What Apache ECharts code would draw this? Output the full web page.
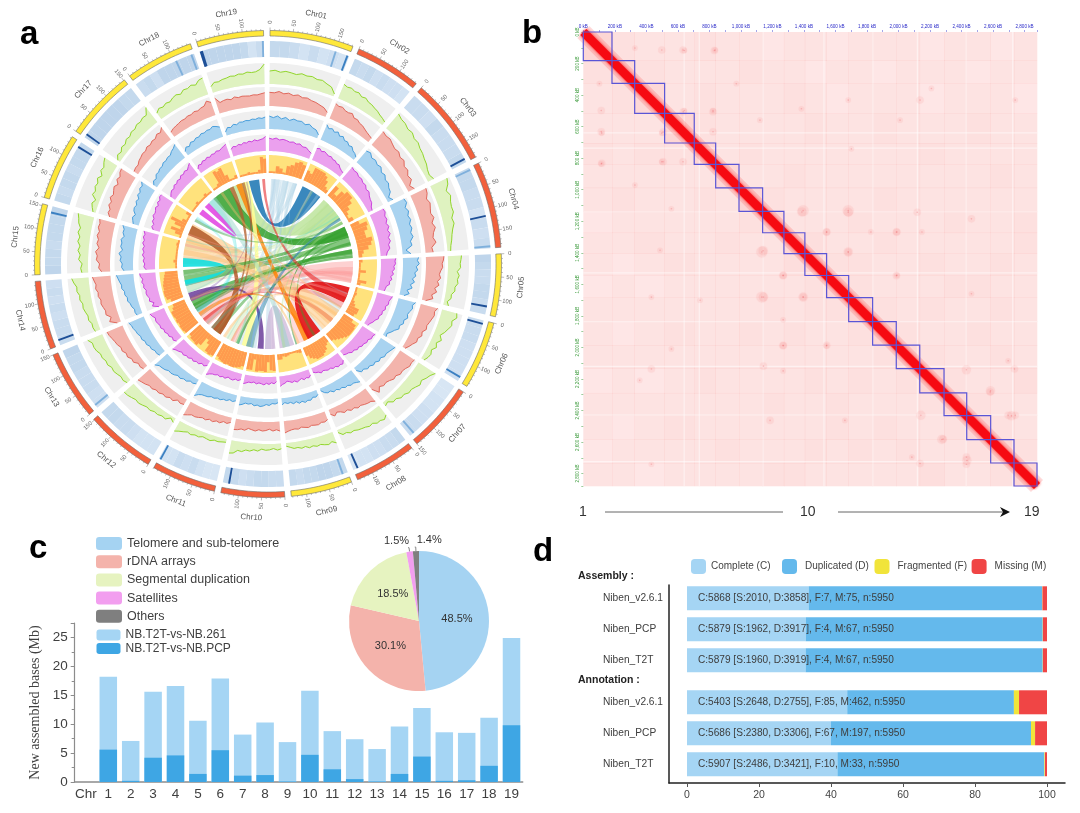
<!DOCTYPE html>
<html><head><meta charset="utf-8">
<style>html,body{margin:0;background:#fff}#c{width:1080px;height:813px}#c canvas{filter:blur(.45px)}</style>
<script src="https://cdn.jsdelivr.net/npm/echarts@6/dist/echarts.min.js"></script></head>
<body><div id="c"></div>
<script>
/* ---------- panel a / b : chromosomes ---------- */
const chrNames=['Chr01','Chr02','Chr03','Chr04','Chr05','Chr06','Chr07','Chr08','Chr09','Chr10','Chr11','Chr12','Chr13','Chr14','Chr15','Chr16','Chr17','Chr18','Chr19'];
const chrLengths=[182,144,190,188,136,148,150,135,133,138,140,152,150,149,154,144,152,148,146];
const chrIdeogramKind=[0,1,1,1,0,0,1,1,0,1,1,1,1,1,0,0,0,0,0];
const greenTrack=[[62,66,58,64,60,55,63,57,60,52,55,45,38,12],[72,66,70,62,66,55,60,50,48,42,38,30,25,18],[90,80,78,68,72,60,62,52,48,40,35,25,20,30],[88,80,60,72,62,58,60,45,50,38,30,25,18,15],[65,62,58,60,45,55,48,52,40,42,28,30,15,25],[72,78,60,66,55,45,30,45,28,38,22,30,25,15],[95,80,72,60,68,58,50,52,40,42,28,30,12,20],[55,68,60,62,50,55,48,45,42,35,38,28,30,12],[55,42,50,45,38,42,35,40,30,35,28,30,22,15],[25,30,22,28,30,25,35,30,38,35,45,42,58,62],[15,18,22,20,28,25,22,30,28,35,30,38,45,55],[22,10,28,25,32,30,38,35,42,48,45,52,58,60],[20,28,25,32,38,35,45,42,50,48,58,62,60,75],[25,30,28,38,35,42,48,45,55,52,62,60,72,80],[30,35,28,45,38,50,42,55,48,60,52,65,70,78],[12,22,30,18,42,35,45,40,52,38,55,50,62,70],[12,28,22,35,30,42,38,48,45,55,52,60,58,88],[35,48,42,50,45,55,60,52,65,62,70,62,78,82],[30,45,42,48,50,55,52,58,55,62,58,60,70,95]];
const redTrack=[[72,70,78,68,74,65,72,62,66,58,55,48,42,25],[85,78,82,72,70,76,60,62,52,50,42,35,30,25],[92,85,88,78,70,75,62,68,50,55,38,45,20,35],[90,85,70,80,72,65,75,58,70,55,48,60,35,40],[95,92,85,88,78,72,80,65,75,55,68,45,55,20],[92,80,85,78,72,65,70,55,62,48,52,38,28,15],[90,85,88,78,72,75,62,66,55,48,52,40,62,25],[85,72,70,65,58,62,50,55,42,48,35,28,42,25],[45,52,48,55,52,48,55,50,45,52,48,50,55,62],[50,42,48,38,45,48,42,50,45,40,52,48,55,58],[25,35,30,42,38,48,42,52,48,55,60,58,68,78],[30,35,28,45,40,52,48,58,55,65,62,72,78,85],[25,32,28,45,42,55,50,62,58,68,72,78,85,88],[20,55,40,62,58,65,72,68,78,75,85,80,88,95],[45,60,55,72,68,78,62,75,70,80,72,82,78,85],[38,52,48,62,55,70,60,68,75,62,80,72,85,88],[25,30,28,38,42,48,45,55,50,58,55,68,62,80],[30,38,42,45,50,48,55,52,60,55,62,65,85,70],[85,55,60,62,55,65,58,62,60,58,62,60,65,70]];
const blueTrack=[[70,62,72,58,68,55,66,60,62,50,58,45,40,20],[88,72,80,68,78,62,70,55,58,45,50,35,30,18],[80,88,72,78,68,75,58,65,50,55,42,38,15,30],[85,90,72,82,70,78,65,72,60,68,50,55,20,45],[85,78,88,72,80,65,72,55,68,48,60,35,50,25],[95,82,88,78,72,80,65,70,55,60,42,30,15,20],[92,85,78,72,75,62,68,55,60,48,52,38,42,18],[78,70,62,65,55,58,48,52,42,48,35,38,30,12],[25,35,30,42,38,45,35,42,30,38,28,32,25,35],[22,28,25,35,30,38,42,35,40,30,35,32,42,48],[30,38,32,42,40,48,45,52,50,58,60,62,70,85],[25,32,30,42,40,50,45,55,60,58,68,72,75,90],[35,42,40,50,48,58,55,65,62,70,72,78,80,88],[30,35,32,42,45,55,52,62,60,72,70,78,85,92],[50,62,58,70,65,78,60,72,68,75,62,72,70,82],[30,38,45,35,50,55,48,60,52,68,62,75,70,85],[20,35,30,45,42,50,48,58,55,62,60,72,78,90],[25,42,35,50,45,55,52,62,58,65,62,72,65,55],[20,40,35,48,42,52,50,55,52,58,55,62,58,65]];
const purpleTrack=[[78,72,80,70,76,72,65,70,62,68,55,58,45,35],[75,82,70,78,72,65,70,60,62,52,55,42,35,30],[92,85,88,78,82,72,76,62,68,55,48,45,30,25],[88,92,80,85,72,82,68,78,62,70,55,60,42,35],[90,85,88,78,82,70,78,62,72,58,62,45,42,38],[95,88,82,85,72,78,65,70,58,62,48,42,30,25],[92,85,88,75,80,70,72,60,65,52,55,42,38,30],[55,72,65,70,58,62,50,55,48,42,50,38,35,25],[35,48,42,50,38,45,52,42,48,40,35,45,50,60],[30,42,35,45,38,48,42,38,45,35,42,40,48,55],[35,45,40,50,48,42,55,50,58,52,60,62,70,82],[32,45,38,52,48,58,50,62,58,68,62,72,78,90],[40,52,45,58,55,65,60,72,68,75,78,72,85,92],[25,60,45,68,62,72,75,70,82,78,88,80,92,95],[55,68,62,72,65,78,70,80,72,85,78,88,82,92],[40,55,48,62,58,72,65,70,78,68,82,75,88,85],[30,42,50,45,58,52,62,55,68,62,72,65,78,90],[30,48,42,55,50,60,52,62,58,68,62,70,78,85],[45,58,52,62,55,65,60,68,62,72,65,70,75,88]];
const orangeTrack=[[10,10,40,30,10,50,60,80,90,80],[60,50,90,90,90,90,80,60,30,20],[70,30,70,90,90,70,40,20,10,30],[50,90,80,60,60,90,80,60,30,20],[20,10,10,10,40,10,10,10,50,20],[10,10,15,10,10,20,30,60,60,50],[60,90,95,95,95,90,80,70,60,50],[40,50,70,80,90,90,90,80,70,50],[20,15,10,10,10,15,20,15,30,30],[90,85,40,95,90,90,95,30,90,90],[80,90,95,100,100,95,100,95,90,80],[90,95,90,50,30,80,95,90,90,80],[90,95,95,90,95,90,95,95,80,70],[70,90,95,95,90,90,85,80,75,70],[10,10,20,10,10,10,10,10,15,10],[10,40,70,20,60,90,30,10,10,30],[10,10,10,20,10,10,10,20,10,10],[10,10,20,90,80,90,40,10,10,20],[10,10,10,15,10,10,10,20,90,80]];
const heatBins=[[6,6,5,3,5,3,4,3],[6,5,6,4,5,4,4,3],[5,5,4,6,5,5,5,6],[6,6,5,5,3,5,4,5],[7,6,5,5,6,6,5,5],[5,5,5,4,4,4,4,4],[2,2,3,3,4,4,5,5],[6,5,5,4,4,3,3,2],[6,6,7,7,6,6,5,6],[5,5,6,6,5,4,6,6],[2,2,3,5,4,5,3,3],[3,3,3,4,5,5,6,6],[4,4,5,5,5,6,6,7],[5,5,5,4,5,4,5,4],[7,6,6,5,6,6,6,7],[6,5,6,6,5,6,6,6],[7,7,7,7,7,7,6,6],[5,6,4,7,7,7,7,7],[7,7,7,7,7,6,3,5]];
const heatStripes=[[0,150,.45],[0,178,.9],[2,182,.95],[3,6,.55],[3,115,1],[3,184,.6],[4,118,.95],[5,8,.95],[5,138,.75],[6,140,.6],[7,125,1],[8,12,.4],[9,124,1],[10,136,.75],[12,8,.6],[13,12,.95],[14,140,.8],[15,132,1],[16,8,1],[17,105,.45],[17,142,.55],[18,2,1],[18,5,1],[18,144,.55]];
const linkColors=['#a6cee3','#1f78b4','#b2df8a','#33a02c','#fb9a99','#e31a1c','#fdbf6f','#ff7f00','#cab2d6','#6a3d9a','#ffff99','#b15928','#8dd3c7','#12dfe0','#e040e0'];
/* angleA1, angleA2, angleB1, angleB2, colour, alpha */
const links=[[2,6,178,182,0,.4],[6,9,120,125,0,.35],[9,12,250,255,0,.3],[12,15,215,220,0,.35],[15,18,140,145,0,.35],[3,7,270,275,0,.28],[10,14,195,200,0,.35],[17,20,300,303,0,.35],
[41,58,332,345,2,.72],[44,50,205,210,2,.3],[50,58,250,255,2,.35],[56,62,280,285,2,.3],[64,72,320,333,3,.85],[72,78,255,262,3,.6],[80,84,240,247,3,.7],[84,86,236,239,3,.7],[68,70,215,218,3,.5],
[88,100,225,240,4,.45],[92,97,200,206,4,.4],[96,103,150,160,4,.35],[117,121,225,230,5,.3],[123,133,282,298,6,.55],[133,140,270,282,6,.5],[150,155,338,342,7,.8],[160,161,64,66,3,.65],
[162,172,175,182,8,.7],[183,187,244,250,9,.85],[192,198,343,347,10,.85],[214,222,290,297,11,.85],[218,220,333,336,11,.75],[214,216,342,344,11,.65],[224,228,95,98,4,.5],[200,202,75,77,3,.6],[204,206,100,103,4,.4],[235,240,315,320,13,.25],[232,235,150,152,7,.6],[238,242,80,83,3,.6],
[255,259,268,274,13,.9],[262,266,66,70,3,.65],[306,310,312,316,14,.85],[316,322,165,170,12,.45],[347,354,24,38,1,.88],[356,358,110,115,5,.55],[57,59,190,195,1,.55],[106,117,142,152,5,.95],
[244,247,110,112,4,.35],[210,212,125,128,6,.5],[228,230,130,133,5,.4],[201,203,30,32,2,.4],[188,190,18,20,0,.4],[168,170,60,62,2,.35],[158,160,285,288,6,.5],[146,148,70,72,3,.4],[300,302,60,62,3,.4],[282,284,100,102,4,.4],[276,280,130,135,6,.45],[326,328,120,122,6,.4],[345,346,245,247,9,.3],[35,37,225,227,0,.35],[220,222,200,202,13,.2],[302,304,235,238,13,.22],
[4,5,262,263,0,.3],[7,8,232,233,0,.3],[13,14,160,161,0,.3],[19,20,110,111,0,.3],[45,46,262,263,2,.3],[52,53,190,191,2,.3],[60,61,225,226,2,.3],[98,99,290,291,4,.3],[112,113,255,256,4,.3],[126,127,205,206,6,.35],[137,138,245,246,6,.35],[176,177,30,31,8,.35],[208,209,50,51,12,.3],[250,251,320,321,12,.3],[286,287,55,56,13,.2]];
/* ---------- panel b : Hi-C ---------- */
const hicPairs=[[4,3,3,4,3,3,2,3,3,2,3,3,3,2,3,3,2,3],[4,3,3,3,4,3,3,2,3,3,2,3,3,3,2,3,3],[3,4,3,3,3,4,3,2,3,3,3,2,3,3,3,2],[4,3,3,3,3,4,3,3,4,3,3,3,4,3,3],[3,4,3,3,3,3,3,3,3,4,3,3,3,3],[3,3,4,3,3,3,3,3,3,3,3,4,3],[4,3,3,3,3,4,3,3,3,3,3,3],[3,3,3,4,3,3,3,4,3,3,4],[5,3,3,4,3,3,3,3,3,4],[4,4,3,3,4,3,3,4,3],[4,3,3,3,4,4,3,3],[4,3,4,3,3,4,3],[4,3,3,4,3,3],[4,3,3,4,3],[4,3,3,5],[4,3,3],[4,3],[4]];
const hicDiagFill=[8,7,7,8,8,7,8,7,7,7,7,8,8,7,8,7,7,8,8];
const hicSpots=[[1387,1141,5],[1681,1143,5],[2119,1143,4],[1545,1268,4],[1990,1268,4],[1825,1268,3],[2149,1268,3],[1133,1395,6],[1681,1395,4],[1268,1543,4],[1990,1543,3],[1133,1681,6],[1395,1681,5],[1268,1987,4],[1545,1987,4],[2142,2431,5],[2741,2431,4],[2696,2431,4],[2582,2283,4],[2275,2584,5],[2434,2717,5],[2137,2736,4],[2085,2696,3],[635,506,4],[823,506,4],[836,114,3],[633,114,4],[498,114,4],[328,102,3],[117,641,3],[498,641,3],[328,971,3],[117,832,4],[633,823,4],[498,823,3],[2137,432,4],[2741,432,3],[1681,432,3],[741,1701,3],[358,2209,3],[1185,2463,4],[487,1384,3],[1660,2463,3],[2010,559,3],[1121,559,3]];
const hicPaleLines=[640,736,1140,1527,1837,2120,2430,2725];
/* ---------- panel c ---------- */
const barCats=['Chr','1','2','3','4','5','6','7','8','9','10','11','12','13','14','15','16','17','18','19'];
const vs261=[null,18.2,7.1,15.6,16.6,10.6,17.9,8.2,10.3,6.9,15.8,8.8,7.4,5.7,9.6,12.8,8.6,8.5,11.1,24.9];
const vsPCP=[null,5.6,.2,4.2,4.6,1.4,5.5,1.1,1.2,.1,4.7,2.2,.5,.1,1.4,4.4,.2,.3,2.8,9.8];
const pieNames=['Telomere and sub-telomere','rDNA arrays','Segmental duplication','Satellites','Others'];
const pieValues=[48.5,30.1,18.5,1.5,1.4];
const pieColors=['#a5d3f2','#f4b3ab','#e6f3c0','#f29eef','#7f7f7f'];
/* ---------- panel d ---------- */
const buscoNames=['Niben_v2.6.1','Niben_PCP','Niben_T2T'];
const asmS=[2010,1962,1960],asmD=[3858,3917,3919],asmF=[7,4,4],asmM=[75,67,67];
const annS=[2648,2380,2486],annD=[2755,3306,3421],annF=[85,67,10],annM=[462,197,33];
const buscoTotal=5950;
const buscoLegend=['Complete (C)','Duplicated (D)','Fragmented (F)','Missing (M)'];
const buscoColors=['#a5d5f4','#64b9ec','#f1e43a','#f04545'];

/* ---------- circos geometry ---------- */
const gapDeg=1.6,firstDeg=.5,degPerMb=(360-gapDeg*19)/chrLengths.reduce((a,b)=>a+b,0);
const chrStart=[];chrLengths.reduce((s,l,i)=>{chrStart[i]=s;return s+l*degPerMb+gapDeg},firstDeg);
const chrIdx=chrNames.map((n,i)=>[i,0]);
const polarBase={type:'custom',coordinateSystem:'polar',polarIndex:0,silent:true,animation:false,data:chrIdx};
const arc=(api,r,a0,a1)=>{const n=Math.max(1,Math.ceil(Math.abs(a1-a0)/1.2)),p=[];for(let k=0;k<=n;k++)p.push(api.coord([r,a0+(a1-a0)*k/n]));return p};
const ring=(api,r0,r1,a0,a1)=>arc(api,r1,a0,a1).concat(arc(api,r0,a1,a0));
const deg=(c,mb)=>chrStart[c]+mb*degPerMb;
function trackSeries(vals,r0,r1,fill,line){return Object.assign({},polarBase,{renderItem(p,api){
  const i=p.dataIndex,a0=deg(i,0),a1=deg(i,chrLengths[i]),v=vals[i],n=v.length-1;
  const top=v.map((x,k)=>api.coord([r0+(r1-r0)*x/100,a0+(a1-a0)*k/n]));
  return {type:'group',children:[
   {type:'polygon',shape:{points:ring(api,r0,r1,a0,a1)},style:{fill:'#efefef'}},
   {type:'polygon',shape:{points:top.concat(arc(api,r0,a1,a0))},style:{fill}},
   {type:'polyline',shape:{points:top},style:{stroke:line,fill:null,lineWidth:1}}]};
}})}
const heatColor=t=>`rgb(${Math.round(226-t*5)},${Math.round(237-t*3.4)},${Math.round(248-t*1.8)})`;
const mixStripe=s=>s>.9?'#1d4f97':s>.7?'#3b80c2':'#7fb0dc';
const seriesList=[
 /* ideogram, ticks, names */
 Object.assign({},polarBase,{renderItem(p,api){
  const i=p.dataIndex,a0=deg(i,0),a1=deg(i,chrLengths[i]),ch=[
   {type:'polygon',shape:{points:ring(api,228,233.5,a0,a1)},style:{fill:chrIdeogramKind[i]?'#f2603c':'#ffe83a',stroke:'#6b6b6b',lineWidth:.6}}];
  for(let mb=0;mb<=chrLengths[i];mb+=10){const a=deg(i,mb),big=mb%50===0;
   ch.push({type:'polyline',shape:{points:[api.coord([233.5,a]),api.coord([big?236.5:235,a])]},style:{stroke:'#777',lineWidth:.5,fill:null}});
   if(big){const q=api.coord([242,a]),rot=a<180?a-90:a+90;
    ch.push({type:'text',x:q[0],y:q[1],rotation:-rot*Math.PI/180,style:{text:String(mb),fontSize:5.8,fontFamily:'Liberation Sans',fill:'#666',align:'center',verticalAlign:'middle'}});}
  }
  const m=(a0+a1)/2,q=api.coord([254,m]),rot=(m>90&&m<270)?m-180:(m>=270?m-360:m);
  ch.push({type:'text',x:q[0],y:q[1],rotation:-rot*Math.PI/180,style:{text:chrNames[i],fontSize:8,fontFamily:'Liberation Sans',fill:'#555',align:'center',verticalAlign:'middle'}});
  return {type:'group',children:ch};
 }}),
 /* heat ring */
 Object.assign({},polarBase,{renderItem(p,api){
  const i=p.dataIndex,v=heatBins[i],n=v.length,a0=deg(i,0),w=chrLengths[i]*degPerMb/n,ch=[];
  v.forEach((t,k)=>ch.push({type:'polygon',shape:{points:ring(api,207,223,a0+k*w,a0+(k+1)*w+.03)},style:{fill:heatColor(t)}}));
  heatStripes.filter(s=>s[0]===i).forEach(s=>{const a=deg(i,s[1]);ch.push({type:'polygon',shape:{points:ring(api,207,223,a-.25,a+.25)},style:{fill:mixStripe(s[2])}})});
  return {type:'group',children:ch};
 }}),
 trackSeries(greenTrack,180,201,'#dff2c0','#92d62c'),
 trackSeries(redTrack,158,177,'#f3b4ac','#e0685c'),
 trackSeries(blueTrack,135,153.5,'#a9d3f0','#4a9fdc'),
 trackSeries(purpleTrack,113,129.5,'#eba0ee','#cc44dd'),
 /* orange / yellow ring */
 Object.assign({},polarBase,{renderItem(p,api){
  const i=p.dataIndex,v=orangeTrack[i],n=v.length,a0=deg(i,0),a1=deg(i,chrLengths[i]),w=(a1-a0)/n,ch=[{type:'polygon',shape:{points:ring(api,91,109,a0,a1)},style:{fill:'#ffe27c'}}];
  v.forEach((t,k)=>ch.push({type:'polygon',shape:{points:ring(api,91,91+18*t/100,a0+k*w,a0+(k+1)*w+.03)},style:{fill:'#ff9b4e'}}));
  return {type:'group',children:ch};
 }}),
 /* links */
 Object.assign({},polarBase,{data:links.map((l,i)=>[i,0]),renderItem(p,api){
  const l=links[p.dataIndex],c=api.coord([0,0]),R=85,A=arc(api,R,l[0],l[1]),B=arc(api,R,l[2],l[3]);
  const f=q=>q[0].toFixed(1)+' '+q[1].toFixed(1),C=f(c);
  let d='M'+f(A[0]);A.slice(1).forEach(q=>d+='L'+f(q));d+='Q'+C+' '+f(B[0]);B.slice(1).forEach(q=>d+='L'+f(q));d+='Q'+C+' '+f(A[0])+'Z';
  return {type:'path',shape:{pathData:d},style:{fill:linkColors[l[4]],opacity:l[5]}};
 }}),
];
/* ---------- Hi-C series ---------- */
const chrKbStart=[];chrLengths.reduce((s,l,i)=>{chrKbStart[i]=s;return s+l},0);
const kbTotal=chrLengths.reduce((a,b)=>a+b,0);
const pairData=[];chrNames.forEach((n,i)=>chrNames.forEach((m,j)=>pairData.push([i,j])));
const hicBase={type:'custom',coordinateSystem:'cartesian2d',xAxisIndex:1,yAxisIndex:1,silent:true,animation:false};
seriesList.push(Object.assign({},hicBase,{data:pairData,renderItem(p,api){
  const [i,j]=pairData[p.dataIndex],a=Math.min(i,j),b=Math.max(i,j),v=i===j?hicDiagFill[i]:hicPairs[a][b-a-1];
  const q=api.coord([chrKbStart[i],chrKbStart[j]]),s=api.coord([chrKbStart[i]+chrLengths[i],chrKbStart[j]+chrLengths[j]]);
  return {type:'rect',shape:{x:q[0],y:q[1],width:s[0]-q[0]+.3,height:s[1]-q[1]+.3},style:{fill:`rgba(245,85,80,${.115+.016*v})`}};
}}));
const hicSpotBoth=hicSpots.concat(hicSpots.map(s=>[s[1],s[0],s[2]]));
seriesList.push({type:'scatter',xAxisIndex:1,yAxisIndex:1,silent:true,animation:false,data:hicSpotBoth,symbolSize:d=>d[2]*1.9,itemStyle:{color:'rgba(240,80,80,.1)',shadowBlur:4,shadowColor:'rgba(240,80,80,.2)'}});
seriesList.push({type:'scatter',xAxisIndex:1,yAxisIndex:1,silent:true,animation:false,data:hicSpotBoth,symbolSize:1.6,itemStyle:{color:'rgba(230,70,80,.3)'}});
seriesList.push(Object.assign({},hicBase,{data:hicPaleLines.map(v=>[v,0]),renderItem(p,api){
  const v=hicPaleLines[p.dataIndex],a=api.coord([v,0]),b=api.coord([v,kbTotal]),c=api.coord([0,v]),d=api.coord([kbTotal,v]);
  return {type:'group',children:[{type:'line',shape:{x1:a[0],y1:a[1],x2:b[0],y2:b[1]},style:{stroke:'rgba(255,255,255,.5)',lineWidth:1.2}},{type:'line',shape:{x1:c[0],y1:c[1],x2:d[0],y2:d[1]},style:{stroke:'rgba(255,255,255,.5)',lineWidth:1.2}}]};
}}));
const diagPts=chrKbStart.concat([kbTotal]).map(v=>[v,v]);
seriesList.push({type:'line',xAxisIndex:1,yAxisIndex:1,silent:true,animation:false,symbol:'none',data:diagPts,lineStyle:{color:'rgba(250,70,70,.2)',width:17,cap:'butt'},z:3});
seriesList.push({type:'line',xAxisIndex:1,yAxisIndex:1,silent:true,animation:false,symbol:'none',data:diagPts,lineStyle:{color:'#f60a12',width:8.5,cap:'butt',shadowBlur:3,shadowColor:'#f00'},z:3});
seriesList.push(Object.assign({},hicBase,{z:4,data:chrIdx,renderItem(p,api){
  const i=p.dataIndex,q=api.coord([chrKbStart[i],chrKbStart[i]]),s=api.coord([chrKbStart[i]+chrLengths[i],chrKbStart[i]+chrLengths[i]]);
  return {type:'rect',shape:{x:q[0],y:q[1],width:s[0]-q[0],height:s[1]-q[1]},style:{fill:null,stroke:'#5a55d6',lineWidth:1.2}};
}}));
/* ---------- panel c series ---------- */
seriesList.push({type:'bar',name:'NB.T2T-vs-NB.261',xAxisIndex:0,yAxisIndex:0,data:vs261,barWidth:17.5,barGap:'-100%',itemStyle:{color:'#a5d5f4'},animation:false,silent:true});
seriesList.push({type:'bar',name:'NB.T2T-vs-NB.PCP',xAxisIndex:0,yAxisIndex:0,data:vsPCP,barWidth:17.5,barGap:'-100%',itemStyle:{color:'#3ea6e4'},animation:false,silent:true});
seriesList.push({type:'pie',center:[419,621],radius:[0,70],startAngle:90,animation:false,silent:true,avoidLabelOverlap:false,minShowLabelAngle:0,
 data:pieNames.map((n,i)=>({name:n,value:pieValues[i],itemStyle:{color:pieColors[i]},label:{position:i<3?'inside':'outside'},labelLine:{show:i>=3,length:4,length2:1,lineStyle:{color:'#888',width:1}}})),
 label:{formatter:p=>p.value.toFixed(1)+'%',fontSize:11,color:'#333',fontFamily:'Liberation Sans'},
 labelLayout:p=>p.dataIndex===3?{dx:6,dy:-7}:p.dataIndex===4?{dx:32,dy:-7}:{}});
/* ---------- panel d series ---------- */
function buscoSeries(S,D,F,M,ax,stack){const pct=a=>a.map(v=>v/buscoTotal*100);const txt=i=>`C:${S[i]+D[i]} [S:${S[i]}, D:${D[i]}], F:${F[i]}, M:${M[i]}, n:${buscoTotal}`;
 return [S,D,F,M].map((a,k)=>({type:'bar',name:buscoLegend[k],stack,xAxisIndex:ax,yAxisIndex:ax,data:pct(a),barWidth:24,animation:false,silent:true,itemStyle:{color:buscoColors[k]},
  label:k===0?{show:true,position:'insideLeft',distance:11,formatter:p=>txt(p.dataIndex),fontSize:10.1,color:'#3d3d3d',fontFamily:'Liberation Sans'}:{show:false}}));}
seriesList.push(...buscoSeries(asmS,asmD,asmF,asmM,2,'asm'),...buscoSeries(annS,annD,annF,annM,3,'ann'));

const hidden={show:false};
const buscoY=top=>({type:'category',gridIndex:top,data:buscoNames,inverse:true,axisLine:hidden,axisTick:hidden,axisLabel:{align:'left',margin:84,fontSize:10.2,color:'#3d3d3d',fontFamily:'Liberation Sans'}});
const buscoX=g=>({type:'value',gridIndex:g,min:0,max:100,show:false});
const kbFmt=v=>v>=kbTotal?'':v.toLocaleString('en-US')+' kB';
const T=(text,x,y,font,fill,extra)=>({type:'text',x,y,silent:true,style:Object.assign({text,font,fill:fill||'#000',verticalAlign:'middle'},extra||{})});
const buscoLegendLeft=[691,782,874.5,971.6];
const option={
 animation:false,backgroundColor:'#fff',
 polar:[{center:[268,264],radius:[0,234]}],
 angleAxis:[{polarIndex:0,type:'value',min:0,max:360,startAngle:90,clockwise:true,show:false}],
 radiusAxis:[{polarIndex:0,type:'value',min:0,max:234,show:false}],
 grid:[{left:74.7,top:623,width:448,height:159,containLabel:false},{left:583.3,top:32,width:453.7,height:454},{left:687,top:582.8,width:360,height:93},{left:687,top:686.8,width:360,height:93},{left:669,top:585,width:396,height:198}],
 xAxis:[
  {type:'category',gridIndex:0,data:barCats,axisTick:hidden,axisLine:{lineStyle:{color:'#8c8c8c',width:1.5}},axisLabel:{fontSize:13.5,color:'#404040',margin:5,fontFamily:'Liberation Sans',interval:0}},
  {type:'value',gridIndex:1,position:'top',min:0,max:kbTotal,interval:200,splitLine:hidden,axisLine:hidden,axisTick:{length:2,lineStyle:{color:'#4a4ad0',width:.5}},minorTick:{show:true,splitNumber:2,length:2,lineStyle:{color:'#4a4ad0',width:.5}},axisLabel:{fontSize:4.6,color:'#2a2ac8',margin:3,formatter:kbFmt,fontFamily:'Liberation Sans',showMaxLabel:false}},
  buscoX(2),buscoX(3),
  {type:'value',gridIndex:4,min:-5,max:105,splitLine:hidden,axisLine:{lineStyle:{color:'#222',width:1.5}},axisTick:{customValues:[0,20,40,60,80,100],length:4,lineStyle:{color:'#555'}},axisLabel:{customValues:[0,20,40,60,80,100],fontSize:10.5,color:'#444',margin:7,fontFamily:'Liberation Sans'}}
 ],
 yAxis:[
  {type:'value',gridIndex:0,min:0,max:27.5,interval:5,splitLine:hidden,name:'New assembled bases (Mb)',nameLocation:'middle',nameGap:32,nameTextStyle:{fontFamily:'Liberation Serif',fontSize:14,color:'#404040'},axisLine:{show:true,lineStyle:{color:'#8c8c8c',width:1.2}},axisTick:{show:true,length:4,lineStyle:{color:'#8c8c8c'}},minorTick:{show:true,splitNumber:2,length:3,lineStyle:{color:'#8c8c8c'}},axisLabel:{fontSize:13.5,color:'#404040',margin:7,showMaxLabel:false,fontFamily:'Liberation Sans'}},
  {type:'value',gridIndex:1,inverse:true,min:0,max:kbTotal,interval:200,splitLine:hidden,axisLine:hidden,axisTick:{length:2,lineStyle:{color:'#3a9a3a',width:.5}},minorTick:{show:true,splitNumber:2,length:2,lineStyle:{color:'#3a9a3a',width:.5}},axisLabel:{fontSize:4.6,color:'#3a9a3a',margin:3,rotate:90,formatter:kbFmt,fontFamily:'Liberation Sans',showMaxLabel:false}},
  buscoY(2),buscoY(3),
  {type:'value',gridIndex:4,min:0,max:1,show:true,splitLine:hidden,axisLine:{show:true,onZero:false,lineStyle:{color:'#222',width:1.5}},axisTick:hidden,axisLabel:hidden}
 ],
 legend:[
  {left:96,top:537,orient:'vertical',padding:0,itemGap:5.2,itemWidth:26,itemHeight:13,data:pieNames,selectedMode:false,textStyle:{fontSize:12.5,color:'#404040',fontFamily:'Liberation Sans'},itemStyle:{borderWidth:0}},
  {left:96.5,top:629,orient:'vertical',padding:0,itemGap:1.5,itemWidth:24,itemHeight:11,data:['NB.T2T-vs-NB.261','NB.T2T-vs-NB.PCP'],selectedMode:false,textStyle:{fontSize:12,color:'#404040',fontFamily:'Liberation Sans'}}
 ].concat(buscoLegend.map((n,i)=>({left:buscoLegendLeft[i],top:559,orient:'horizontal',padding:0,itemWidth:15,itemHeight:15,data:[n],selectedMode:false,textStyle:{fontSize:10,color:'#444',fontFamily:'Liberation Sans',padding:[0,0,0,i?3:0]}}))),
 graphic:[
  T('a',20,35,'bold 33px "Liberation Sans"'),T('b',522,34,'bold 33px "Liberation Sans"'),T('c',29,549,'bold 33px "Liberation Sans"'),T('d',533,552,'bold 33px "Liberation Sans"'),
  T('1',579,512,'14px "Liberation Sans"','#333'),T('10',800,512,'14px "Liberation Sans"','#333'),T('19',1024,512,'14px "Liberation Sans"','#333'),
  {type:'line',silent:true,shape:{x1:605,y1:512,x2:783,y2:512},style:{stroke:'#666',lineWidth:1}},
  {type:'line',silent:true,shape:{x1:838,y1:512,x2:1006,y2:512},style:{stroke:'#666',lineWidth:1}},
  {type:'polygon',silent:true,shape:{points:[[1000,507],[1010,512],[1000,517],[1003,512]]},style:{fill:'#111'}},
  T('Assembly :',578,576,'bold 10.5px "Liberation Sans"','#222'),T('Annotation :',578,680,'bold 10.5px "Liberation Sans"','#222')
 ],
 series:seriesList
};
const chart=echarts.init(document.getElementById('c'),null,{width:1080,height:813});
chart.setOption(option);
</script></body></html>
